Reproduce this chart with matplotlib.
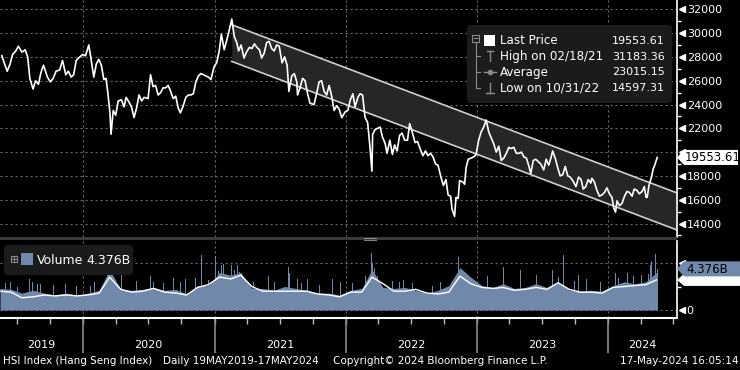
import matplotlib.pyplot as plt
import matplotlib.patches as mpatches
import pandas as pd

W, H = 740, 370

price_dates = [
    '2019-05-20', '2019-05-29', '2019-06-04', '2019-06-12', '2019-06-19', '2019-06-28',
    '2019-07-05', '2019-07-15', '2019-07-24', '2019-07-31', '2019-08-06', '2019-08-15',
    '2019-08-22', '2019-08-30', '2019-09-06', '2019-09-13', '2019-09-24', '2019-10-02',
    '2019-10-10', '2019-10-18', '2019-10-28', '2019-11-05', '2019-11-14', '2019-11-21',
    '2019-11-29', '2019-12-06', '2019-12-13', '2019-12-23', '2019-12-31',
    '2020-01-08', '2020-01-17', '2020-01-23', '2020-01-31', '2020-02-07', '2020-02-14',
    '2020-02-21', '2020-02-28', '2020-03-05', '2020-03-10', '2020-03-16', '2020-03-19',
    '2020-03-25', '2020-04-01', '2020-04-08', '2020-04-17', '2020-04-24', '2020-04-30',
    '2020-05-08', '2020-05-15', '2020-05-22', '2020-05-29', '2020-06-05', '2020-06-12',
    '2020-06-19', '2020-06-30', '2020-07-07', '2020-07-14', '2020-07-21', '2020-07-28',
    '2020-08-04', '2020-08-11', '2020-08-18', '2020-08-25', '2020-09-01', '2020-09-08',
    '2020-09-15', '2020-09-22', '2020-09-28', '2020-10-06', '2020-10-13', '2020-10-20',
    '2020-10-27', '2020-11-03', '2020-11-10', '2020-11-17', '2020-11-24', '2020-12-01',
    '2020-12-08', '2020-12-15', '2020-12-22', '2020-12-31',
    '2021-01-07', '2021-01-14', '2021-01-20', '2021-01-28', '2021-02-03', '2021-02-09',
    '2021-02-18', '2021-02-25', '2021-03-04', '2021-03-09', '2021-03-16', '2021-03-24',
    '2021-03-31', '2021-04-08', '2021-04-15', '2021-04-22', '2021-04-29', '2021-05-06',
    '2021-05-12', '2021-05-19', '2021-05-26', '2021-06-02', '2021-06-09', '2021-06-16',
    '2021-06-23', '2021-06-30', '2021-07-08', '2021-07-15', '2021-07-22', '2021-07-27',
    '2021-08-04', '2021-08-11', '2021-08-18', '2021-08-20', '2021-08-27', '2021-09-03',
    '2021-09-10', '2021-09-17', '2021-09-24', '2021-10-05', '2021-10-12', '2021-10-19',
    '2021-10-26', '2021-11-02', '2021-11-09', '2021-11-16', '2021-11-23', '2021-11-30',
    '2021-12-07', '2021-12-14', '2021-12-21', '2021-12-31',
    '2022-01-07', '2022-01-14', '2022-01-21', '2022-01-27', '2022-02-04', '2022-02-10',
    '2022-02-17', '2022-02-24', '2022-03-03', '2022-03-09', '2022-03-15', '2022-03-17',
    '2022-03-24', '2022-03-31', '2022-04-07', '2022-04-13', '2022-04-21', '2022-04-26',
    '2022-05-04', '2022-05-11', '2022-05-17', '2022-05-24', '2022-05-31', '2022-06-07',
    '2022-06-14', '2022-06-22', '2022-06-28', '2022-07-06', '2022-07-13', '2022-07-20',
    '2022-07-28', '2022-08-04', '2022-08-11', '2022-08-18', '2022-08-25', '2022-09-01',
    '2022-09-08', '2022-09-15', '2022-09-23', '2022-09-30', '2022-10-07', '2022-10-13',
    '2022-10-20', '2022-10-24', '2022-10-31', '2022-11-04', '2022-11-10', '2022-11-14',
    '2022-11-23', '2022-11-28', '2022-12-02', '2022-12-08', '2022-12-16', '2022-12-23',
    '2022-12-30',
    '2023-01-06', '2023-01-13', '2023-01-20', '2023-01-27', '2023-02-03', '2023-02-10',
    '2023-02-17', '2023-02-24', '2023-03-03', '2023-03-10', '2023-03-17', '2023-03-24',
    '2023-03-31', '2023-04-06', '2023-04-14', '2023-04-21', '2023-04-28', '2023-05-05',
    '2023-05-12', '2023-05-19', '2023-05-26', '2023-05-31', '2023-06-07', '2023-06-14',
    '2023-06-21', '2023-06-28', '2023-07-06', '2023-07-13', '2023-07-20', '2023-07-27',
    '2023-07-31', '2023-08-07', '2023-08-14', '2023-08-21', '2023-08-28', '2023-09-04',
    '2023-09-11', '2023-09-18', '2023-09-25', '2023-10-04', '2023-10-11', '2023-10-18',
    '2023-10-24', '2023-10-31', '2023-11-07', '2023-11-14', '2023-11-17', '2023-11-24',
    '2023-12-01', '2023-12-08', '2023-12-15', '2023-12-22', '2023-12-29',
    '2024-01-05', '2024-01-12', '2024-01-17', '2024-01-22', '2024-01-26', '2024-02-02',
    '2024-02-09', '2024-02-16', '2024-02-23', '2024-03-01', '2024-03-08', '2024-03-14',
    '2024-03-21', '2024-03-28', '2024-04-05', '2024-04-11', '2024-04-16', '2024-04-19',
    '2024-04-24', '2024-04-30', '2024-05-06', '2024-05-10', '2024-05-17',
]
price_values = [
    28100, 27300, 26800, 27400, 28200, 28500,
    28900, 28400, 28600, 28000, 26200, 25300,
    26000, 25700, 26700, 27300, 26300, 25900,
    26200, 26800, 26900, 27700, 26500, 26800,
    26300, 26500, 27700, 28000, 28200,
    28100, 29000, 27900, 26300, 27400, 27800,
    27300, 26100, 26200, 25000, 23300, 21500,
    23500, 23100, 24300, 24400, 23800, 24600,
    24200, 23800, 22900, 23700, 24800, 24300,
    24600, 24500, 26500, 25500, 25600, 24800,
    25000, 25400, 25400, 25600, 25100, 24500,
    24700, 23700, 23300, 23900, 24600, 24800,
    24800, 24900, 25900, 26400, 26600, 26500,
    26400, 26300, 26100, 27200,
    27500, 28500, 29900, 28600, 29300, 30000,
    31183, 29700, 29200, 28500, 29000, 27900,
    28400, 28800, 28700, 29100, 28800, 28600,
    27900, 28300, 29200, 29300, 28700, 28500,
    29000, 28900, 27500, 28000, 27300, 25100,
    26400, 26600, 25900, 24800, 25400, 26200,
    26000, 24900, 24100, 24000, 24900, 25900,
    26000, 25100, 24800, 25600, 24700, 23500,
    23900, 23600, 22900, 23400,
    23500, 24400, 24900, 23800, 24600, 24900,
    24800, 22900, 22500, 20600, 18400, 21500,
    21900, 22000, 22100, 21300, 20700, 19900,
    21000, 19800, 20600, 20100, 21400, 21600,
    21000, 21000, 22400, 21600, 20800, 20900,
    20200, 19700, 20100, 19700, 19900, 19600,
    19000, 18900, 17900, 17200, 17700, 16400,
    16300, 15200, 14597, 16200, 16100, 17600,
    17500, 17300, 18700, 19400, 19500, 19600,
    19800,
    21000, 21700, 22100, 22700, 21700, 21200,
    20700, 20000, 20500, 19300, 19500, 19900,
    20400, 20300, 20400, 19900, 19900, 20000,
    19600, 19500, 18800, 18200, 19300, 19400,
    19200, 19000, 18500, 19400, 18900, 19600,
    20100, 19500, 18700, 18000, 18100, 18800,
    18000, 17900, 17600, 17100, 17900, 17700,
    16900, 17100, 17700, 17400, 17800, 17500,
    16800, 16300, 16400, 16600, 17000,
    16500, 16200, 15300, 14961, 15900, 15500,
    15700, 16300, 16700, 16600, 16300, 16900,
    16800, 16500, 16700, 17100, 16200, 16200,
    17200, 17800, 18600, 18900, 19553.61,
]

# monthly volume (billions), May 2019 .. May 2024: typical daily level and moving average
vol_months = pd.date_range('2019-05-01', periods=61, freq='MS') + pd.Timedelta(days=14)
vol_level = [
    2.3, 2.2, 1.8, 2.1, 1.8, 1.6, 1.8, 1.6,
    1.8, 2.1, 4.3, 2.2, 2.1, 2.2, 2.4, 2.1, 2.2, 1.7, 2.6, 2.6,
    4.0, 3.7, 4.0, 2.3, 2.3, 2.1, 2.5, 2.3, 2.1, 1.8, 1.8, 1.6,
    2.1, 2.3, 4.3, 2.4, 2.3, 2.4, 2.1, 1.8, 2.1, 2.6, 4.5, 3.5,
    2.6, 2.4, 2.8, 2.3, 2.4, 2.8, 2.4, 3.0, 2.1, 2.0, 2.1, 2.0,
    2.6, 3.0, 2.8, 3.0, 4.0,
]
vol_avg = [
    2.0, 1.9, 1.3, 1.4, 1.6, 1.5, 1.6, 1.5,
    1.6, 1.8, 3.5, 2.2, 1.9, 2.0, 2.3, 1.9, 1.8, 1.6, 2.4, 2.7,
    3.5, 3.3, 3.7, 2.5, 2.0, 2.0, 2.0, 2.0, 2.0, 1.7, 1.6, 1.4,
    1.9, 1.9, 3.5, 2.8, 2.0, 2.0, 2.2, 1.8, 1.7, 1.9, 3.6, 2.8,
    2.4, 2.3, 2.4, 2.1, 2.2, 2.4, 2.2, 2.9, 2.2, 1.9, 1.9, 1.8,
    2.4, 2.5, 2.6, 2.7, 3.2,
]
spike_dates = [
    '2019-05-30', '2019-06-13', '2019-07-03', '2019-08-05', '2019-08-13', '2019-08-27',
    '2019-09-05', '2019-10-11', '2019-11-13', '2019-12-13', '2020-01-21', '2020-02-03',
    '2020-03-09', '2020-03-13', '2020-03-19', '2020-03-23', '2020-04-17', '2020-05-22',
    '2020-05-28', '2020-06-30', '2020-07-07', '2020-07-14', '2020-08-13', '2020-09-09',
    '2020-09-28', '2020-10-12', '2020-11-05', '2020-11-10', '2020-11-25', '2020-12-15',
    '2021-01-04', '2021-01-12', '2021-01-20', '2021-01-27', '2021-02-18', '2021-02-26',
    '2021-03-05', '2021-03-12', '2021-04-20', '2021-05-13', '2021-05-31', '2021-06-18',
    '2021-07-27', '2021-07-28', '2021-08-20', '2021-08-31', '2021-09-17', '2021-10-20',
    '2021-11-26', '2021-12-17', '2022-01-21', '2022-02-24', '2022-03-15', '2022-03-16',
    '2022-03-22', '2022-03-30', '2022-04-26', '2022-05-11', '2022-05-30', '2022-06-10',
    '2022-07-06', '2022-08-31', '2022-09-23', '2022-10-24', '2022-10-31', '2022-11-04',
    '2022-11-11', '2022-11-16', '2022-11-29', '2022-12-13', '2023-01-30', '2023-02-15',
    '2023-03-16', '2023-05-02', '2023-05-26', '2023-06-16', '2023-07-31', '2023-08-15',
    '2023-08-31', '2023-09-29', '2023-10-10', '2023-11-03', '2023-12-12', '2024-01-22',
    '2024-01-29', '2024-02-23', '2024-03-11', '2024-04-02', '2024-04-22', '2024-04-29',
    '2024-05-02', '2024-05-08', '2024-05-13', '2024-05-17',
]
spike_values = [
    2.9, 3.0, 2.5, 3.3, 3.0, 2.8,
    2.8, 2.7, 2.8, 2.6, 2.6, 3.0,
    4.0, 4.9, 4.5, 4.6, 3.7, 3.4,
    3.1, 5.0, 3.6, 3.0, 2.9, 3.4,
    3.0, 3.3, 4.0, 3.4, 5.9, 3.2,
    5.7, 4.2, 4.8, 4.9, 4.8, 4.3,
    4.8, 4.0, 3.0, 3.8, 3.6, 3.0,
    4.6, 3.9, 3.3, 2.9, 3.3, 2.7,
    3.3, 3.0, 2.9, 3.6, 6.1, 5.0,
    4.5, 3.6, 3.7, 3.1, 3.0, 3.2,
    2.9, 2.6, 3.0, 3.1, 3.3, 4.4,
    5.6, 4.2, 5.3, 4.1, 3.6, 3.1,
    4.6, 4.3, 3.9, 3.7, 4.3, 3.5,
    5.9, 3.1, 3.7, 3.3, 3.0, 3.9,
    3.4, 3.9, 3.6, 3.7, 3.8, 4.8,
    5.2, 6.6, 6.0, 4.376,
]

channel_dates = ['2021-02-18', '2024-07-11']
channel_upper = [30700, 16570]
channel_lower = [27620, 13460]

years = ['2019', '2020', '2021', '2022', '2023', '2024']
legend_names = ['Last Price', 'High on 02/18/21', 'Average', 'Low on 10/31/22']
legend_values = ['19553.61', '31183.36', '23015.15', '14597.31']
last_price = 19553.61
last_volume = 4.376
last_vol_avg = 3.2

x0, x1 = pd.Timestamp('2019-05-15'), pd.Timestamp('2024-07-11')
grid_kw = dict(color='#6a6a6a', lw=0.8, ls=(0, (2, 2.5)), zorder=0)
vol_color = '#7089aa'

fig = plt.figure(figsize=(W / 100, H / 100), dpi=100, facecolor='black')


def px_axes(left, top, right, bottom):
    return fig.add_axes([left / W, 1 - bottom / H, (right - left) / W, (bottom - top) / H])


# price panel
ax = px_axes(0, 0, 677, 237)
ax.set_facecolor('black')
dates = pd.to_datetime(price_dates)
cd = pd.to_datetime(channel_dates)
ax.fill_between(cd, channel_lower, channel_upper, color='#262626', lw=0, zorder=1)
ax.plot(cd, channel_upper, color='#cfcfcf', lw=1.2, zorder=2)
ax.plot(cd, channel_lower, color='#cfcfcf', lw=1.2, zorder=2)
ax.plot(dates, price_values, color='white', lw=1.2, zorder=3)
ax.set_xlim(x0, x1)
ax.set_ylim(12870, 32780)
for v in range(14000, 32001, 2000):
    ax.axhline(v, **grid_kw)
for y in years[1:]:
    ax.axvline(pd.Timestamp(y + '-01-01'), **grid_kw)
ax.yaxis.tick_right()
major = list(range(14000, 32001, 2000))
ax.set_yticks(major)
# the label under the last-price tag is hidden in the original
ax.set_yticklabels(['' if abs(v - last_price) < 1000 else str(v) for v in major])
ax.set_yticks(range(13000, 32001, 1000), minor=True)
ax.tick_params(axis='y', which='major', length=0, pad=7, labelsize=8, labelcolor='white')
ax.tick_params(axis='y', which='minor', length=3, width=1, color='white')
ax.set_xticks([])
ax.plot([1.008] * len(major), major, ls='none', marker='<', ms=4, color='white',
        transform=ax.get_yaxis_transform(), clip_on=False)
for s in ['top', 'left', 'bottom']:
    ax.spines[s].set_visible(False)
ax.spines['right'].set_color('white')
ax.spines['right'].set_linewidth(1.2)

# volume panel
axv = px_axes(0, 241, 677, 318)
axv.set_facecolor('black')
axv.fill_between(vol_months, 0, vol_level, color=vol_color, lw=0, zorder=1)
axv.bar(pd.to_datetime(spike_dates), spike_values, width=2.5, color=vol_color, lw=0, zorder=1)
axv.plot(vol_months, vol_avg, color='white', lw=1.0, zorder=2)
axv.set_xlim(x0, x1)
axv.set_ylim(-0.85, 7.34)
for v in [0, 5]:
    axv.axhline(v, **grid_kw)
for y in years[1:]:
    axv.axvline(pd.Timestamp(y + '-01-01'), **grid_kw)
axv.yaxis.tick_right()
axv.set_yticks([0, 5])
axv.set_yticklabels(['0', ''])
axv.set_yticks([2.5], minor=True)
axv.tick_params(axis='y', which='major', length=0, pad=7, labelsize=8, labelcolor='white')
axv.tick_params(axis='y', which='minor', length=3, width=1, color='white')
axv.plot([1.008] * 2, [0, 5], ls='none', marker='<', ms=4, color='white',
         transform=axv.get_yaxis_transform(), clip_on=False)
axv.set_xticks([])
for s in ['top', 'left', 'bottom']:
    axv.spines[s].set_visible(False)
axv.spines['right'].set_color('white')
axv.spines['right'].set_linewidth(1.2)

# date strip
axd = px_axes(0, 318, 677, 353)
axd.set_facecolor('black')
axd.set_xlim(x0, x1)
axd.set_ylim(0, 1)
for s in ['left', 'right', 'bottom']:
    axd.spines[s].set_visible(False)
axd.spines['top'].set_color('white')
axd.spines['top'].set_linewidth(1.5)
axd.set_yticks([])
quarters = pd.date_range('2019-07-01', '2024-07-01', freq='QS')
axd.set_xticks(quarters)
axd.set_xticklabels([])
axd.xaxis.tick_top()
axd.tick_params(axis='x', direction='in', length=4, color='#bbbbbb', width=1)
for y in years[1:]:
    axd.axvline(pd.Timestamp(y + '-01-01'), color='#8a8a8a', lw=1.2)
for y in years:
    a = max(pd.Timestamp(y + '-01-01'), x0)
    b = min(pd.Timestamp(y + '-12-31'), x1)
    axd.text(a + (b - a) / 2, 0.22, y, color='white', fontsize=8, ha='center', va='center')

# overlay for legend boxes, tags and footer (pixel coordinates)
ov = fig.add_axes([0, 0, 1, 1], facecolor='none')
ov.set_xlim(0, W)
ov.set_ylim(H, 0)
ov.axis('off')
ov.set_zorder(10)

gray = '#8a8a8a'
ov.add_patch(mpatches.FancyBboxPatch((467, 25), 205, 78, boxstyle='round,pad=0,rounding_size=3',
                                     fc='#1b1b1b', ec='none'))
ov.add_patch(mpatches.Rectangle((472, 34.5), 7, 7, fill=False, ec=gray, lw=0.8))
ov.plot([473.5, 477.5], [38, 38], color=gray, lw=0.8)
ov.plot([475.5, 475.5], [41.5, 88], color=gray, lw=0.8)
for yy in [56, 72, 88]:
    ov.plot([475.5, 480], [yy, yy], color=gray, lw=0.8)
ov.add_patch(mpatches.Rectangle((484, 35), 11, 11, fc='white', ec='none'))
ov.plot([490, 490], [51, 61], color=gray, lw=1)
ov.plot([487, 493], [51, 51], color=gray, lw=1)
ov.plot([484, 496], [72, 72], color=gray, lw=1)
ov.plot([490], [72], marker='o', ms=3, color=gray)
ov.plot([490, 490], [83, 93], color=gray, lw=1)
ov.plot([486, 494], [93, 93], color=gray, lw=1)
for i, (name, val) in enumerate(zip(legend_names, legend_values)):
    yy = 41 + i * 15.7
    ov.text(500, yy, name, color='white', fontsize=8.6, va='center', ha='left')
    ov.text(665, yy, val, color='white', fontsize=8, va='center', ha='right')

# volume legend
ov.add_patch(mpatches.FancyBboxPatch((4, 245), 129, 30, boxstyle='round,pad=0,rounding_size=3',
                                     fc='#1b1b1b', ec='none'))
ov.add_patch(mpatches.Rectangle((11, 256), 6, 6, fill=False, ec=gray, lw=0.8))
ov.plot([12, 16], [259, 259], color=gray, lw=0.7)
ov.plot([14, 14], [257, 261], color=gray, lw=0.7)
ov.add_patch(mpatches.Rectangle((21, 253), 12, 12, fc=vol_color, ec='none'))
ov.text(37, 260, 'Volume', color='white', fontsize=9, va='center')
ov.text(86, 260, f'{last_volume:.3f}B', color='white', fontsize=9, va='center')


# right-side value tags, placed from the data values
def tag_y(axis, value):
    return H - axis.transData.transform((0, value))[1]


fig.canvas.draw()
yp = tag_y(ax, last_price)
ov.add_patch(mpatches.Polygon([(677, yp), (684, yp - 7.5), (738, yp - 7.5), (738, yp + 7.5),
                               (684, yp + 7.5)], closed=True, fc='white', ec='none'))
ov.text(685, yp + 0.5, f'{last_price:.2f}', color='black', fontsize=8.5, va='center')

# moving-average tag, almost fully hidden behind the volume tag
ya = tag_y(axv, last_vol_avg)
ov.add_patch(mpatches.Polygon([(677, ya), (684, ya - 6), (740, ya - 6), (740, ya + 6),
                               (684, ya + 6)], closed=True, fc='white', ec='none'))
yv = tag_y(axv, last_volume)
ov.add_patch(mpatches.Polygon([(677, yv), (684, yv - 7.5), (740, yv - 7.5), (740, yv + 7.5),
                               (684, yv + 7.5)], closed=True, fc=vol_color, ec='none'))
ov.text(686, yv + 0.5, f'{last_volume:.3f}B', color='black', fontsize=8.5, va='center')

# separator between panels
ov.add_patch(mpatches.Rectangle((0, 237), 677, 3, fc='#3a3a3a', ec='none'))
ov.plot([364, 376], [238, 238], color='#9a9a9a', lw=0.6)
ov.plot([364, 376], [239.5, 239.5], color='#9a9a9a', lw=0.6)

# footer
ov.text(3, 361, 'HSI Index (Hang Seng Index)', color='white', fontsize=7.5, va='center')
ov.text(163, 361, 'Daily 19MAY2019-17MAY2024', color='white', fontsize=7.5, va='center')
ov.text(333, 361, 'Copyright\u00a9 2024 Bloomberg Finance L.P.', color='white', fontsize=7.5, va='center')
ov.text(738, 361, '17-May-2024 16:05:14', color='white', fontsize=7.5, va='center', ha='right')

fig.savefig('out.png', dpi=100, facecolor='black')
